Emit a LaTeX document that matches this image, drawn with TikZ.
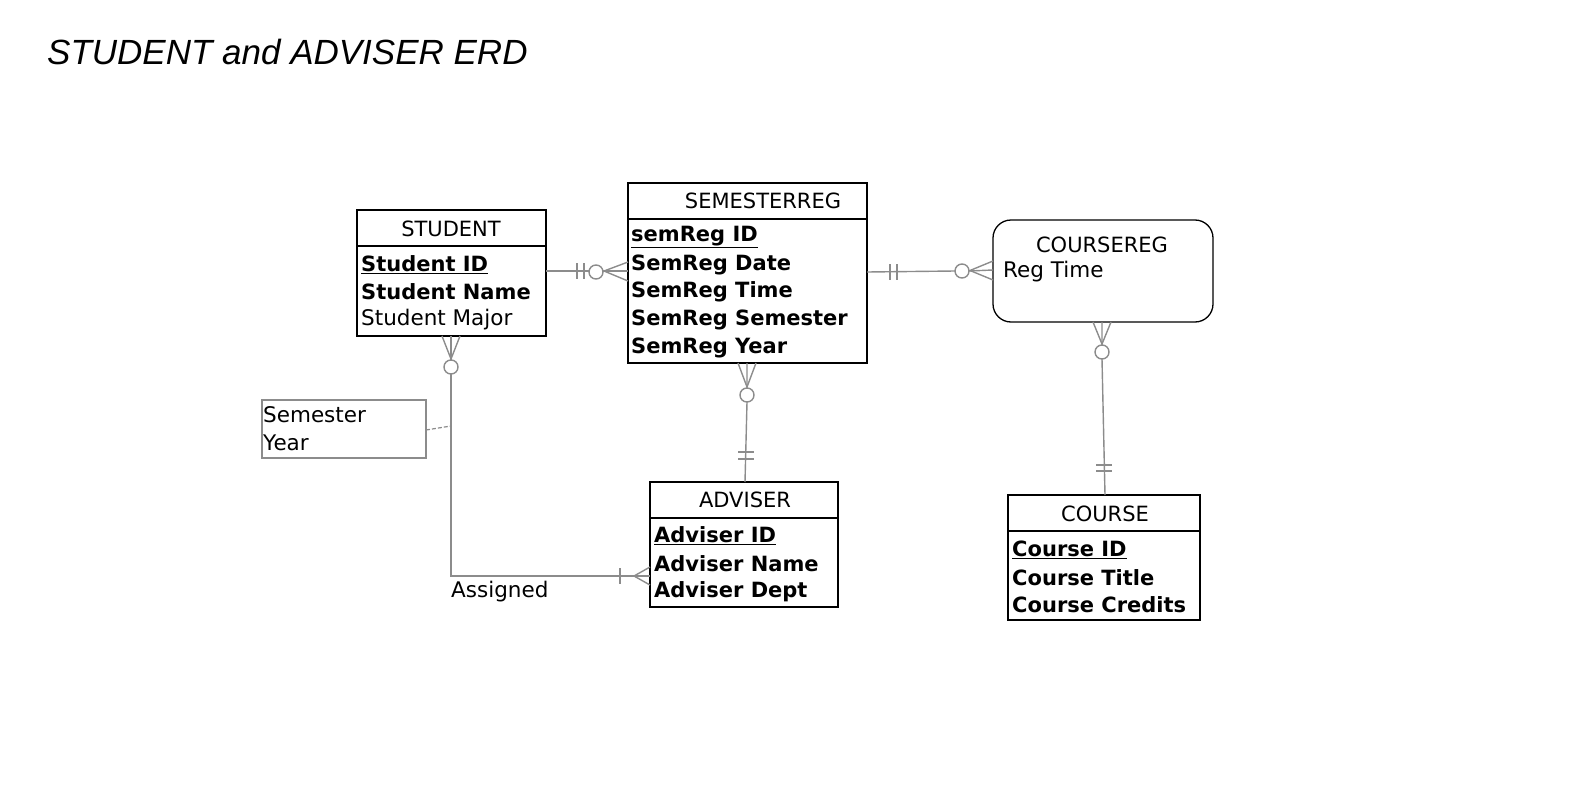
\documentclass[tikz,border=0pt]{standalone}
\usepackage{fontspec}
\setmainfont{DejaVu Sans}
\newfontfamily\arialf{Liberation Sans}
\begin{document}
\begin{tikzpicture}[x=1pt,y=-1pt,
  ent/.style={draw=black,line width=1.3pt},
  lk/.style={draw=gray!90,line width=1.4pt},
  t/.style={font=\fontsize{21.5}{21.5}\selectfont,inner sep=0pt,anchor=west},
  hd/.style={font=\fontsize{21}{21}\selectfont,inner sep=0pt},
  b/.style={t,font=\fontsize{21}{21}\selectfont\bfseries}]
\useasboundingbox (0,0) rectangle (1588,800);
\node[anchor=west,inner sep=0pt,font=\arialf\itshape\fontsize{35}{35}\selectfont] (title) at (47,52) {STUDENT and ADVISER ERD};
% STUDENT
\draw[ent] (357,210) rectangle (546,336); \draw[ent] (357,246)--(546,246);
\node[hd] (sh) at (451,229) {STUDENT};
\node[b] (s1) at (361,265) {\underline{Student ID}};
\node[b] (s2) at (361,292) {Student Name};
\node[t] (s3) at (361,320) {Student Major};
% SEMESTERREG
\draw[ent] (628,183) rectangle (867,363); \draw[ent] (628,219)--(867,219);
\node[hd] (rh) at (763,201) {SEMESTERREG};
\node[b] (r1) at (631,237) {\underline{semReg ID}};
\node[b] (r2) at (631,265) {SemReg Date};
\node[b] (r3) at (631,292) {SemReg Time};
\node[b] (r4) at (631,320) {SemReg Semester};
\node[b] (r5) at (631,348) {SemReg Year};
% COURSEREG
\draw[ent,rounded corners=18pt] (993,220) rectangle (1213,322);
\node[hd] (ch) at (1102,245) {COURSEREG};
\node[t] (c1) at (1003,272) {Reg Time};
% ADVISER
\draw[ent] (650,482) rectangle (838,607); \draw[ent] (650,518)--(838,518);
\node[hd] (ah) at (745,500) {ADVISER};
\node[b] (a1) at (654,536) {\underline{Adviser ID}};
\node[b] (a2) at (654,564) {Adviser Name};
\node[b] (a3) at (654,592) {Adviser Dept};
% COURSE
\draw[ent] (1008,495) rectangle (1200,620); \draw[ent] (1008,531)--(1200,531);
\node[hd] (kh) at (1105,514) {COURSE};
\node[b] (k1) at (1012,550) {\underline{Course ID}};
\node[b] (k2) at (1012,578) {Course Title};
\node[b] (k3) at (1012,605) {Course Credits};
% Semester Year
\draw[draw=gray!90,line width=1.2pt] (262,400) rectangle (426,458);
\node[t] (y1) at (263,415) {Semester};
\node[t] (y2) at (263,443) {Year};
% link 1
\draw[lk] (546,271)--(589,271) (603,271)--(628,271);
\draw[lk] (577,263)--(577,279) (584,263)--(584,279);
\draw[lk] (596,272) circle (7);
\draw[lk] (628,262)--(604,271)--(628,281);
% link 2
\draw[lk] (867,272)--(955,271) (969,271)--(993,270);
\draw[lk] (890,264)--(890,280) (897,264)--(897,280);
\draw[lk] (962,271) circle (7);
\draw[lk] (993,261)--(970,270.5)--(993,280);
% link 3
\draw[lk] (747,363)--(747,388) (747,402)--(745,482);
\draw[lk] (738,452)--(754,452) (738,459)--(754,459);
\draw[lk] (747,395) circle (7);
\draw[lk] (738,363)--(747,387)--(756,363);
% link 4
\draw[lk] (1102,322)--(1102,345) (1102,359)--(1105,495);
\draw[lk] (1096,465)--(1112,465) (1096,471)--(1112,471);
\draw[lk] (1102,352) circle (7);
\draw[lk] (1093,322)--(1102,344)--(1111,322);
% link 5
\draw[lk] (451,336)--(451,360) (451,374)--(451,576)--(650,576);
\draw[lk] (451,367) circle (7);
\draw[lk] (442,336)--(451,359)--(460,336);
\draw[lk] (620,568)--(620,584);
\draw[lk] (650,567)--(634,576)--(650,585);
\node[t] (asg) at (451,592) {Assigned};
\draw[lk,dashed,line width=1.2pt,dash pattern=on 4pt off 2pt] (426,430)--(451,426);
\end{tikzpicture}
\end{document}
